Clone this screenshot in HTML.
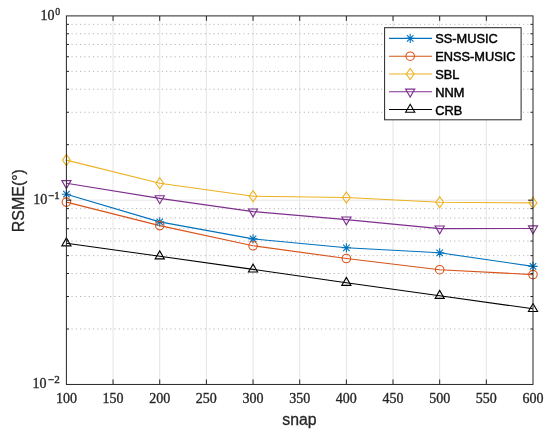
<!DOCTYPE html>
<html><head><meta charset="utf-8"><title>RSME vs snap</title>
<style>html,body{margin:0;padding:0;background:#fff}svg{display:block}.t{font-family:"Liberation Serif",serif;fill:#262626;stroke:#262626;stroke-width:0.32px}.l{font-family:"Liberation Sans",sans-serif;fill:#262626;stroke:#262626;stroke-width:0.3px}.g{font-family:"Liberation Sans",sans-serif;fill:#000;stroke:#000;stroke-width:0.45px}</style></head><body>
<svg width="550" height="432" viewBox="0 0 550 432">
<rect width="550" height="432" fill="#fff"/>
<line x1="113.06" y1="15.9" x2="113.06" y2="384.45" stroke="#e5e5e5" stroke-width="1"/>
<line x1="159.72" y1="15.9" x2="159.72" y2="384.45" stroke="#e5e5e5" stroke-width="1"/>
<line x1="206.38" y1="15.9" x2="206.38" y2="384.45" stroke="#e5e5e5" stroke-width="1"/>
<line x1="253.04" y1="15.9" x2="253.04" y2="384.45" stroke="#e5e5e5" stroke-width="1"/>
<line x1="299.70" y1="15.9" x2="299.70" y2="384.45" stroke="#e5e5e5" stroke-width="1"/>
<line x1="346.36" y1="15.9" x2="346.36" y2="384.45" stroke="#e5e5e5" stroke-width="1"/>
<line x1="393.02" y1="15.9" x2="393.02" y2="384.45" stroke="#e5e5e5" stroke-width="1"/>
<line x1="439.68" y1="15.9" x2="439.68" y2="384.45" stroke="#e5e5e5" stroke-width="1"/>
<line x1="486.34" y1="15.9" x2="486.34" y2="384.45" stroke="#e5e5e5" stroke-width="1"/>
<line x1="66.4" y1="200.18" x2="533.0" y2="200.18" stroke="#e5e5e5" stroke-width="1"/>
<line x1="71.45" y1="144.70" x2="530.0" y2="144.70" stroke="#b4b4b4" stroke-width="1" stroke-dasharray="1.15 3.151"/>
<line x1="71.45" y1="112.25" x2="530.0" y2="112.25" stroke="#b4b4b4" stroke-width="1" stroke-dasharray="1.15 3.151"/>
<line x1="71.45" y1="89.23" x2="530.0" y2="89.23" stroke="#b4b4b4" stroke-width="1" stroke-dasharray="1.15 3.151"/>
<line x1="71.45" y1="71.37" x2="530.0" y2="71.37" stroke="#b4b4b4" stroke-width="1" stroke-dasharray="1.15 3.151"/>
<line x1="71.45" y1="56.78" x2="530.0" y2="56.78" stroke="#b4b4b4" stroke-width="1" stroke-dasharray="1.15 3.151"/>
<line x1="71.45" y1="44.44" x2="530.0" y2="44.44" stroke="#b4b4b4" stroke-width="1" stroke-dasharray="1.15 3.151"/>
<line x1="71.45" y1="33.76" x2="530.0" y2="33.76" stroke="#b4b4b4" stroke-width="1" stroke-dasharray="1.15 3.151"/>
<line x1="71.45" y1="24.33" x2="530.0" y2="24.33" stroke="#b4b4b4" stroke-width="1" stroke-dasharray="1.15 3.151"/>
<line x1="71.45" y1="328.98" x2="530.0" y2="328.98" stroke="#b4b4b4" stroke-width="1" stroke-dasharray="1.15 3.151"/>
<line x1="71.45" y1="296.53" x2="530.0" y2="296.53" stroke="#b4b4b4" stroke-width="1" stroke-dasharray="1.15 3.151"/>
<line x1="71.45" y1="273.51" x2="530.0" y2="273.51" stroke="#b4b4b4" stroke-width="1" stroke-dasharray="1.15 3.151"/>
<line x1="71.45" y1="255.65" x2="530.0" y2="255.65" stroke="#b4b4b4" stroke-width="1" stroke-dasharray="1.15 3.151"/>
<line x1="71.45" y1="241.06" x2="530.0" y2="241.06" stroke="#b4b4b4" stroke-width="1" stroke-dasharray="1.15 3.151"/>
<line x1="71.45" y1="228.72" x2="530.0" y2="228.72" stroke="#b4b4b4" stroke-width="1" stroke-dasharray="1.15 3.151"/>
<line x1="71.45" y1="218.03" x2="530.0" y2="218.03" stroke="#b4b4b4" stroke-width="1" stroke-dasharray="1.15 3.151"/>
<line x1="71.45" y1="208.61" x2="530.0" y2="208.61" stroke="#b4b4b4" stroke-width="1" stroke-dasharray="1.15 3.151"/>
<polyline points="66.40,194.20 159.72,221.90 253.04,238.90 346.36,247.80 439.68,252.80 533.00,266.40" fill="none" stroke="#0072BD" stroke-width="1.12" stroke-linejoin="round"/>
<polyline points="66.40,202.10 159.72,225.60 253.04,245.80 346.36,258.50 439.68,269.70 533.00,274.60" fill="none" stroke="#D95319" stroke-width="1.12" stroke-linejoin="round"/>
<polyline points="66.40,160.10 159.72,183.20 253.04,196.25 346.36,197.50 439.68,202.20 533.00,202.90" fill="none" stroke="#EDB120" stroke-width="1.12" stroke-linejoin="round"/>
<polyline points="66.40,183.30 159.72,198.40 253.04,211.60 346.36,219.60 439.68,228.60 533.00,228.50" fill="none" stroke="#7E2F8E" stroke-width="1.12" stroke-linejoin="round"/>
<polyline points="66.40,243.20 159.72,256.20 253.04,269.40 346.36,282.70 439.68,295.70 533.00,308.80" fill="none" stroke="#000000" stroke-width="1.12" stroke-linejoin="round"/>
<path d="M61.80 194.20L71.00 194.20M63.15 190.95L69.65 197.45M66.40 189.60L66.40 198.80M69.65 190.95L63.15 197.45" stroke="#0072BD" stroke-width="1.1" fill="none"/>
<path d="M155.12 221.90L164.32 221.90M156.47 218.65L162.97 225.15M159.72 217.30L159.72 226.50M162.97 218.65L156.47 225.15" stroke="#0072BD" stroke-width="1.1" fill="none"/>
<path d="M248.44 238.90L257.64 238.90M249.79 235.65L256.29 242.15M253.04 234.30L253.04 243.50M256.29 235.65L249.79 242.15" stroke="#0072BD" stroke-width="1.1" fill="none"/>
<path d="M341.76 247.80L350.96 247.80M343.11 244.55L349.61 251.05M346.36 243.20L346.36 252.40M349.61 244.55L343.11 251.05" stroke="#0072BD" stroke-width="1.1" fill="none"/>
<path d="M435.08 252.80L444.28 252.80M436.43 249.55L442.93 256.05M439.68 248.20L439.68 257.40M442.93 249.55L436.43 256.05" stroke="#0072BD" stroke-width="1.1" fill="none"/>
<path d="M528.40 266.40L537.60 266.40M529.75 263.15L536.25 269.65M533.00 261.80L533.00 271.00M536.25 263.15L529.75 269.65" stroke="#0072BD" stroke-width="1.1" fill="none"/>
<circle cx="66.40" cy="202.10" r="4.25" stroke="#D95319" stroke-width="1.1" fill="none"/>
<circle cx="159.72" cy="225.60" r="4.25" stroke="#D95319" stroke-width="1.1" fill="none"/>
<circle cx="253.04" cy="245.80" r="4.25" stroke="#D95319" stroke-width="1.1" fill="none"/>
<circle cx="346.36" cy="258.50" r="4.25" stroke="#D95319" stroke-width="1.1" fill="none"/>
<circle cx="439.68" cy="269.70" r="4.25" stroke="#D95319" stroke-width="1.1" fill="none"/>
<circle cx="533.00" cy="274.60" r="4.25" stroke="#D95319" stroke-width="1.1" fill="none"/>
<path d="M62.50 160.10L66.40 154.50L70.30 160.10L66.40 165.70Z" stroke="#EDB120" stroke-width="1.1" fill="none" stroke-linejoin="miter"/>
<path d="M155.82 183.20L159.72 177.60L163.62 183.20L159.72 188.80Z" stroke="#EDB120" stroke-width="1.1" fill="none" stroke-linejoin="miter"/>
<path d="M249.14 196.25L253.04 190.65L256.94 196.25L253.04 201.85Z" stroke="#EDB120" stroke-width="1.1" fill="none" stroke-linejoin="miter"/>
<path d="M342.46 197.50L346.36 191.90L350.26 197.50L346.36 203.10Z" stroke="#EDB120" stroke-width="1.1" fill="none" stroke-linejoin="miter"/>
<path d="M435.78 202.20L439.68 196.60L443.58 202.20L439.68 207.80Z" stroke="#EDB120" stroke-width="1.1" fill="none" stroke-linejoin="miter"/>
<path d="M529.10 202.90L533.00 197.30L536.90 202.90L533.00 208.50Z" stroke="#EDB120" stroke-width="1.1" fill="none" stroke-linejoin="miter"/>
<path d="M61.80 180.65L71.00 180.65L66.40 188.60Z" stroke="#7E2F8E" stroke-width="1.1" fill="none" stroke-linejoin="miter"/>
<path d="M155.12 195.75L164.32 195.75L159.72 203.70Z" stroke="#7E2F8E" stroke-width="1.1" fill="none" stroke-linejoin="miter"/>
<path d="M248.44 208.95L257.64 208.95L253.04 216.90Z" stroke="#7E2F8E" stroke-width="1.1" fill="none" stroke-linejoin="miter"/>
<path d="M341.76 216.95L350.96 216.95L346.36 224.90Z" stroke="#7E2F8E" stroke-width="1.1" fill="none" stroke-linejoin="miter"/>
<path d="M435.08 225.95L444.28 225.95L439.68 233.90Z" stroke="#7E2F8E" stroke-width="1.1" fill="none" stroke-linejoin="miter"/>
<path d="M528.40 225.85L537.60 225.85L533.00 233.80Z" stroke="#7E2F8E" stroke-width="1.1" fill="none" stroke-linejoin="miter"/>
<path d="M61.80 245.85L71.00 245.85L66.40 237.90Z" stroke="#000000" stroke-width="1.1" fill="none" stroke-linejoin="miter"/>
<path d="M155.12 258.85L164.32 258.85L159.72 250.90Z" stroke="#000000" stroke-width="1.1" fill="none" stroke-linejoin="miter"/>
<path d="M248.44 272.05L257.64 272.05L253.04 264.10Z" stroke="#000000" stroke-width="1.1" fill="none" stroke-linejoin="miter"/>
<path d="M341.76 285.35L350.96 285.35L346.36 277.40Z" stroke="#000000" stroke-width="1.1" fill="none" stroke-linejoin="miter"/>
<path d="M435.08 298.35L444.28 298.35L439.68 290.40Z" stroke="#000000" stroke-width="1.1" fill="none" stroke-linejoin="miter"/>
<path d="M528.40 311.45L537.60 311.45L533.00 303.50Z" stroke="#000000" stroke-width="1.1" fill="none" stroke-linejoin="miter"/>
<rect x="66.4" y="15.9" width="466.60" height="368.55" fill="none" stroke="#262626" stroke-width="1"/>
<path d="M113.06 384.45v-5.0M113.06 15.9v5.0M159.72 384.45v-5.0M159.72 15.9v5.0M206.38 384.45v-5.0M206.38 15.9v5.0M253.04 384.45v-5.0M253.04 15.9v5.0M299.70 384.45v-5.0M299.70 15.9v5.0M346.36 384.45v-5.0M346.36 15.9v5.0M393.02 384.45v-5.0M393.02 15.9v5.0M439.68 384.45v-5.0M439.68 15.9v5.0M486.34 384.45v-5.0M486.34 15.9v5.0M66.4 200.18h5.0M533.0 200.18h-5.0M66.4 144.70h2.6M533.0 144.70h-2.6M66.4 112.25h2.6M533.0 112.25h-2.6M66.4 89.23h2.6M533.0 89.23h-2.6M66.4 71.37h2.6M533.0 71.37h-2.6M66.4 56.78h2.6M533.0 56.78h-2.6M66.4 44.44h2.6M533.0 44.44h-2.6M66.4 33.76h2.6M533.0 33.76h-2.6M66.4 24.33h2.6M533.0 24.33h-2.6M66.4 328.98h2.6M533.0 328.98h-2.6M66.4 296.53h2.6M533.0 296.53h-2.6M66.4 273.51h2.6M533.0 273.51h-2.6M66.4 255.65h2.6M533.0 255.65h-2.6M66.4 241.06h2.6M533.0 241.06h-2.6M66.4 228.72h2.6M533.0 228.72h-2.6M66.4 218.03h2.6M533.0 218.03h-2.6M66.4 208.61h2.6M533.0 208.61h-2.6" stroke="#262626" stroke-width="1" fill="none"/>
<text class="t" x="66.40" y="402.8" font-size="13.6" textLength="21" lengthAdjust="spacingAndGlyphs" text-anchor="middle">100</text>
<text class="t" x="113.06" y="402.8" font-size="13.6" textLength="21" lengthAdjust="spacingAndGlyphs" text-anchor="middle">150</text>
<text class="t" x="159.72" y="402.8" font-size="13.6" textLength="21" lengthAdjust="spacingAndGlyphs" text-anchor="middle">200</text>
<text class="t" x="206.38" y="402.8" font-size="13.6" textLength="21" lengthAdjust="spacingAndGlyphs" text-anchor="middle">250</text>
<text class="t" x="253.04" y="402.8" font-size="13.6" textLength="21" lengthAdjust="spacingAndGlyphs" text-anchor="middle">300</text>
<text class="t" x="299.70" y="402.8" font-size="13.6" textLength="21" lengthAdjust="spacingAndGlyphs" text-anchor="middle">350</text>
<text class="t" x="346.36" y="402.8" font-size="13.6" textLength="21" lengthAdjust="spacingAndGlyphs" text-anchor="middle">400</text>
<text class="t" x="393.02" y="402.8" font-size="13.6" textLength="21" lengthAdjust="spacingAndGlyphs" text-anchor="middle">450</text>
<text class="t" x="439.68" y="402.8" font-size="13.6" textLength="21" lengthAdjust="spacingAndGlyphs" text-anchor="middle">500</text>
<text class="t" x="486.34" y="402.8" font-size="13.6" textLength="21" lengthAdjust="spacingAndGlyphs" text-anchor="middle">550</text>
<text class="t" x="533.00" y="402.8" font-size="13.6" textLength="21" lengthAdjust="spacingAndGlyphs" text-anchor="middle">600</text>
<text class="t" x="54.4" y="19.90" font-size="13.6" textLength="14" lengthAdjust="spacingAndGlyphs" text-anchor="end">10</text>
<text class="t" x="55.2" y="14.90" font-size="9.8" textLength="4.9" lengthAdjust="spacingAndGlyphs">0</text>
<text class="t" x="47.3" y="204.18" font-size="13.6" textLength="14" lengthAdjust="spacingAndGlyphs" text-anchor="end">10</text>
<text class="t" x="48.2" y="199.18" font-size="9.8" textLength="11.6" lengthAdjust="spacingAndGlyphs">−1</text>
<text class="t" x="46.6" y="388.45" font-size="13.6" textLength="14" lengthAdjust="spacingAndGlyphs" text-anchor="end">10</text>
<text class="t" x="48.0" y="383.45" font-size="9.8" textLength="11.8" lengthAdjust="spacingAndGlyphs">−2</text>
<text class="l" x="299.5" y="424.9" font-size="15.8" text-anchor="middle">snap</text>
<text class="l" transform="translate(24,200.7) rotate(-90)" font-size="16.0" text-anchor="middle">RSME(°)</text>
<rect x="384.6" y="27.7" width="136.50" height="92.10" fill="#fff" stroke="#262626" stroke-width="1"/>
<line x1="389.0" y1="38.4" x2="432.0" y2="38.4" stroke="#0072BD" stroke-width="1.12"/>
<path d="M405.60 38.40L414.80 38.40M406.95 35.15L413.45 41.65M410.20 33.80L410.20 43.00M413.45 35.15L406.95 41.65" stroke="#0072BD" stroke-width="1.1" fill="none"/>
<text class="g" x="435.2" y="43.40" font-size="12.8">SS-MUSIC</text>
<line x1="389.0" y1="56.2" x2="432.0" y2="56.2" stroke="#D95319" stroke-width="1.12"/>
<circle cx="410.20" cy="56.20" r="4.25" stroke="#D95319" stroke-width="1.1" fill="none"/>
<text class="g" x="435.2" y="61.20" font-size="12.8">ENSS-MUSIC</text>
<line x1="389.0" y1="74.0" x2="432.0" y2="74.0" stroke="#EDB120" stroke-width="1.12"/>
<path d="M406.30 74.00L410.20 68.40L414.10 74.00L410.20 79.60Z" stroke="#EDB120" stroke-width="1.1" fill="none" stroke-linejoin="miter"/>
<text class="g" x="435.2" y="79.00" font-size="12.8">SBL</text>
<line x1="389.0" y1="91.8" x2="432.0" y2="91.8" stroke="#7E2F8E" stroke-width="1.12"/>
<path d="M405.60 89.15L414.80 89.15L410.20 97.10Z" stroke="#7E2F8E" stroke-width="1.1" fill="none" stroke-linejoin="miter"/>
<text class="g" x="435.2" y="96.80" font-size="12.8">NNM</text>
<line x1="389.0" y1="109.55" x2="432.0" y2="109.55" stroke="#000000" stroke-width="1.12"/>
<path d="M405.60 112.20L414.80 112.20L410.20 104.25Z" stroke="#000000" stroke-width="1.1" fill="none" stroke-linejoin="miter"/>
<text class="g" x="435.2" y="114.55" font-size="12.8">CRB</text>
</svg></body></html>
